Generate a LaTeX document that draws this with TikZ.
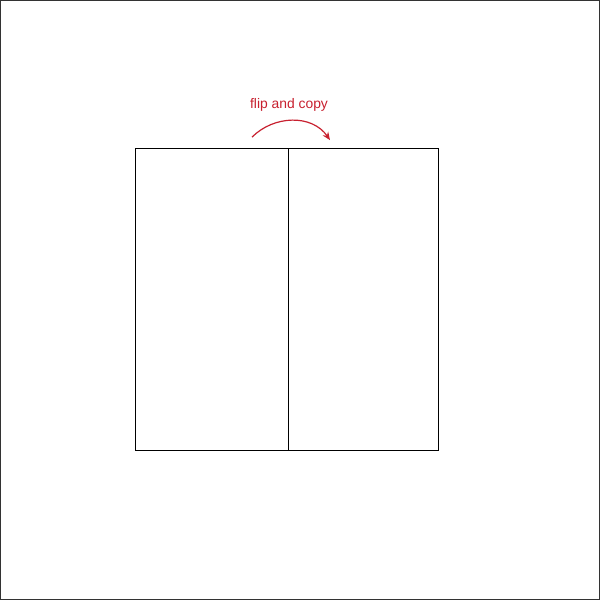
\documentclass[tikz,border=0pt]{standalone}
\usepackage{fontspec}
\setmainfont{Liberation Sans}
\usetikzlibrary{arrows.meta}
\definecolor{flipred}{HTML}{C8202F}
\begin{document}
\begin{tikzpicture}[x=0.75pt,y=-0.75pt,
  panel/.style={draw=black,line width=0.9pt},
  flipline/.style={draw=flipred,line width=0.9pt,-{Stealth[length=6pt,width=5pt]}},
  fliplabel/.style={text=flipred,font=\fontsize{10.4}{12}\selectfont,inner sep=0pt}]
\draw[draw=black!80,line width=1pt,fill=white] (0.5,0.5) rectangle (599.5,599.5);
\useasboundingbox (0,0) rectangle (600,600);
\node[panel,minimum width=153*0.75pt,minimum height=302*0.75pt,inner sep=0pt,anchor=north west] (left) at (135,148) {};
\node[panel,minimum width=150*0.75pt,minimum height=302*0.75pt,inner sep=0pt,anchor=north west] (right) at (288,148) {};
\coordinate (a) at (252,137);
\coordinate (b) at (330,140);
\draw[flipline] (a) .. controls (274,115) and (312,114) .. (b);
\node[fliplabel] (lbl) at (289,105) {flip and copy};
\end{tikzpicture}
\end{document}
